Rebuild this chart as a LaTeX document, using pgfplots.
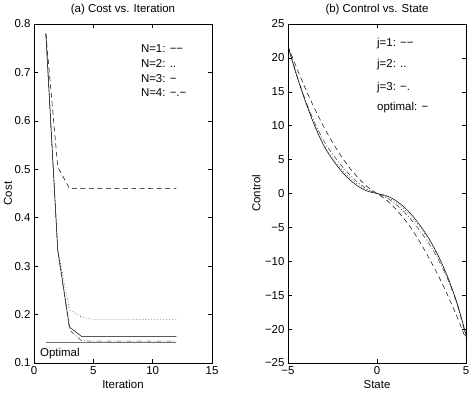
\documentclass[border=0pt]{standalone}
\usepackage{fontspec}
\setmainfont{Liberation Sans}
\usepackage{pgfplots}
\pgfplotsset{compat=1.18}
\begin{document}
\begin{tikzpicture}
\path[use as bounding box] (0bp,0bp) rectangle (474bp,393bp);
\pgfplotsset{
  every axis/.append style={
    scale only axis, width=178bp, height=339bp,
    font=\fontsize{11.5}{13}\selectfont,
    /pgf/number format/assume math mode=true,
    tick pos=both, tick align=inside, major tick length=4bp,
    axis line style={line width=0.8pt},
    every tick/.style={line width=0.5pt,black},
    title style={at={(0.5,1)},anchor=south,yshift=0bp,inner sep=3bp},
    xlabel style={inner sep=1bp, yshift=-1bp},
    ylabel style={inner sep=1bp},
  },
}
\begin{axis}[at={(34bp,30bp)},anchor=south west,
  xmin=0,xmax=15,ymin=0.1,ymax=0.8,
  xtick={0,5,10,15}, ytick={0.1,0.2,0.3,0.4,0.5,0.6,0.7,0.8},
  yticklabel style={/pgf/number format/fixed,/pgf/number format/precision=1},
  title={(a) Cost vs. Iteration}, xlabel={Iteration}, ylabel={Cost},
  ylabel style={yshift=-2bp}]
\addplot[black!55, line width=0.6pt] coordinates {(1,0.142) (12,0.142)};
\addplot[black, line width=0.5pt, dash pattern=on 5pt off 3.5pt] coordinates {
(1,0.78) (2,0.505) (3,0.46) (4,0.46) (5,0.46) (6,0.46) (7,0.46) (8,0.46) (9,0.46) (10,0.46) (11,0.46) (12,0.46)};
\addplot[black!70, line width=0.6pt, dash pattern=on 0.8pt off 2.2pt] coordinates {
(1,0.78) (2,0.335) (3,0.21) (4,0.195) (5,0.19) (6,0.19) (7,0.19) (8,0.19) (9,0.19) (10,0.19) (11,0.19) (12,0.19)};
\addplot[black, line width=0.5pt] coordinates {
(1,0.78) (2,0.333) (3,0.174) (4,0.155) (5,0.155) (6,0.155) (7,0.155) (8,0.155) (9,0.155) (10,0.155) (11,0.155) (12,0.155)};
\addplot[black!80, line width=0.5pt, dash pattern=on 5pt off 2pt on 1pt off 2pt] coordinates {
(1,0.78) (2,0.333) (3,0.168) (4,0.146) (5,0.145) (6,0.145) (7,0.145) (8,0.145) (9,0.145) (10,0.145) (11,0.145) (12,0.145)};
\node[anchor=west,inner sep=0pt] at (axis cs:9,0.75) {N=1: −−};
\node[anchor=west,inner sep=0pt] at (axis cs:9,0.719) {N=2: ..};
\node[anchor=west,inner sep=0pt] at (axis cs:9,0.688) {N=3: −};
\node[anchor=west,inner sep=0pt] at (axis cs:9,0.658) {N=4: −.−};
\node[anchor=west,inner sep=0pt] at (axis cs:0.5,0.12) {Optimal};
\end{axis}
\begin{axis}[at={(288bp,30bp)},anchor=south west,
  xmin=-5,xmax=5,ymin=-25,ymax=25,
  xtick={-5,0,5}, xticklabels={−5,0,5},
  ytick={-25,-20,-15,-10,-5,0,5,10,15,20,25},
  yticklabels={−25,−20,−15,−10,−5,0,5,10,15,20,25},
  title={(b) Control vs. State}, xlabel={State}, ylabel={Control},
  ylabel style={yshift=0bp}]
% j=1 dashed
\addplot[black, line width=0.5pt, smooth, dash pattern=on 5pt off 3.5pt] coordinates {
(-5,21.75) (-4.5,18.45) (-4,15.35) (-3.5,12.5) (-3,9.9) (-2.5,7.55) (-2,5.45) (-1.5,3.65) (-1,2.15) (-0.5,0.9) (0,0)
(0.5,-0.9) (1,-2.15) (1.5,-3.65) (2,-5.45) (2.5,-7.55) (3,-9.9) (3.5,-12.4) (4,-15.2) (4.5,-18.2) (5,-21.5)};
% j=2 dotted
\addplot[black!70, line width=0.6pt, smooth, dash pattern=on 0.8pt off 2.2pt] coordinates {
(-5,21.7) (-4.5,17.32) (-4,13.44) (-3.5,10.06) (-3,7.27) (-2.5,5.25) (-2,3.6) (-1.5,2.27) (-1,1.19) (-0.5,0.42) (0,0)
(0.5,-0.42) (1,-1.19) (1.5,-2.27) (2,-3.6) (2.5,-5.26) (3,-7.2) (3.5,-9.6) (4,-12.6) (4.5,-16.25) (5,-20.9)};
% j=3 dash-dot
\addplot[black!80, line width=0.5pt, smooth, dash pattern=on 5pt off 2pt on 1pt off 2pt] coordinates {
(-5,21.7) (-4.5,17.39) (-4,13.63) (-3.5,10.43) (-3,7.8) (-2.5,5.82) (-2,4.12) (-1.5,2.66) (-1,1.49) (-0.5,0.57) (0,0)
(0.5,-0.57) (1,-1.49) (1.5,-2.66) (2,-4.12) (2.5,-5.82) (3,-7.72) (3.5,-10.02) (4,-12.82) (4.5,-16.36) (5,-21.1)};
% optimal solid
\addplot[black, line width=0.5pt, smooth] coordinates {
(-5,21.7) (-4.5,17.3) (-4,13.4) (-3.5,9.98) (-3,7.1) (-2.5,5.0) (-2,3.3) (-1.5,1.95) (-1,0.95) (-0.5,0.3) (0,0)
(0.5,-0.3) (1,-0.95) (1.5,-1.95) (2,-3.3) (2.5,-5.0) (3,-7.0) (3.5,-9.5) (4,-12.5) (4.5,-16.2) (5,-20.8)};
\node[anchor=west,inner sep=0pt] at (axis cs:0,22.05) {j=1: −−};
\node[anchor=west,inner sep=0pt] at (axis cs:0,18.95) {j=2: ..};
\node[anchor=west,inner sep=0pt] at (axis cs:0,15.56) {j=3: −.};
\node[anchor=west,inner sep=0pt] at (axis cs:0,12.75) {optimal: −};
\end{axis}
\end{tikzpicture}
\end{document}
